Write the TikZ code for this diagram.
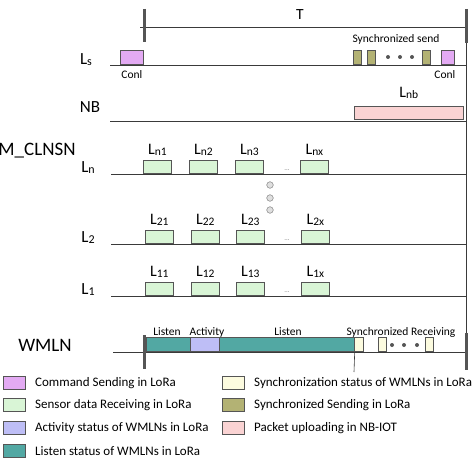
\documentclass[tikz,border=0pt]{standalone}
\usepackage{fontspec}
\setmainfont{Carlito}
\usetikzlibrary{arrows.meta,positioning}
\usepackage{xcolor}
\definecolor{loraCmd}{HTML}{E3AAF3}
\definecolor{loraSensor}{HTML}{D9F5D6}
\definecolor{loraActive}{HTML}{BEBEF6}
\definecolor{loraListen}{HTML}{52A8A3}
\definecolor{loraSync}{HTML}{FCFBDF}
\definecolor{loraSend}{HTML}{B3B274}
\definecolor{nbUpload}{HTML}{FAD3D3}
\definecolor{slotEdge}{HTML}{555555}
\definecolor{axisLine}{HTML}{3A3A3A}
\newcommand{\Lsub}[2][11.5]{L\raisebox{-1pt}{\fontsize{#1}{#1}\selectfont #2}}

\begin{document}
\begin{tikzpicture}[x=1pt,y=-1pt,>=Latex,
  slot/.style={draw=slotEdge,line width=0.7pt,inner sep=0pt,anchor=south west},
  axis/.style={draw=axisLine,line width=0.9pt},
  bar/.style={draw=slotEdge,line width=3pt},
  rowlab/.style={font=\fontsize{17}{17}\selectfont},
  netlab/.style={font=\fontsize{19}{19}\selectfont},
  small/.style={font=\fontsize{11.5}{12}\selectfont,inner sep=0pt},
  keytext/.style={font=\fontsize{13}{14}\selectfont,anchor=west,inner sep=0pt}]
\useasboundingbox (0,0) rectangle (474,460);

% period T
\coordinate (tL) at (140,27);
\coordinate (tR) at (466,27);
\draw[axis] (tL) -- (tR);
\draw[bar] (144,9) -- (144,42);
\draw[bar] (466,9) -- (466,43);
\node[font=\fontsize{15.5}{15.5}\selectfont] (T) at (300,15) {T};
\coordinate (endTop) at (466,43);
\coordinate (endBot) at (466,334);
\draw[axis] (endTop) -- (endBot);

% Ls
\node[rowlab] (Ls) at (86,60) {\Lsub[12]{s}};
\coordinate (ls0) at (110,65);
\coordinate (ls1) at (466,65);
\draw[axis] (ls0) -- (ls1);
\node[slot,fill=loraCmd,minimum width=23pt,minimum height=14pt] (conlA) at (120,65) {};
\node[slot,fill=loraCmd,minimum width=13pt,minimum height=14pt] (conlB) at (441,65) {};
\node[small,below=5pt of conlA.south] {Conl};
\node[small,below=5pt of conlB.south,xshift=-3pt] {Conl};
\foreach \x/\name in {353/sendA,367/sendB,422/sendC}
  \node[slot,fill=loraSend,minimum width=8pt,minimum height=14pt] (\name) at (\x,65) {};
\foreach \x in {388,400,412}
  \fill[slotEdge] (\x,57) circle (2pt);
\node[small] (syncSend) at (396,39) {Synchronized send};

% NB
\node[rowlab] (NB) at (90,107) {NB};
\coordinate (nb0) at (110,121);
\coordinate (nb1) at (466,121);
\draw[axis] (nb0) -- (nb1);
\node[slot,fill=nbUpload,minimum width=109pt,minimum height=13pt] (up) at (354,120) {};
\node[font=\fontsize{16}{16}\selectfont,above=4pt of up] {\Lsub{nb}};

% M_CLNSN
\node[netlab] (clnsn) at (37,151) {M\_CLNSN};
\foreach \y/\row/\xa/\xb/\xc/\xd in {174/n/143/189/235/300, 244/2/145/191/236/301, 296/1/145/191/236/301}{
  \node[rowlab] (lab\row) at (88,\y-6) {\Lsub[12]{\row}};
  \coordinate (row\row a) at (111,\y);
  \coordinate (row\row b) at (466,\y);
  \draw[axis] (row\row a) -- (row\row b);
  \foreach \x/\k in {\xa/1,\xb/2,\xc/3,\xd/x}{
    \node[slot,fill=loraSensor,minimum width=28pt,minimum height=13pt] (s\row\k) at (\x,\y) {};
    \node[font=\fontsize{16}{16}\selectfont,above=1pt of s\row\k] {\Lsub{\row\k}};
  }
  \node[font=\fontsize{7}{7}\selectfont,text=gray] at (287,\y-4) {...};
}
\foreach \y in {185,198,210}
  \filldraw[draw=gray,fill=gray!25,line width=0.5pt] (270,\y) circle (3.3pt);

% WMLN
\node[netlab] (wmln) at (45,345) {WMLN};
\coordinate (w0) at (113,352);
\coordinate (w1) at (466,352);
\draw[axis] (w0) -- (w1);
\node[slot,fill=loraListen,minimum width=208pt,minimum height=14pt] (listen) at (146,352) {};
\node[slot,fill=loraActive,minimum width=29pt,minimum height=14pt] (act) at (190,352) {};
\foreach \x/\w/\name in {354/9/syA,378/8/syB,425/8/syC}
  \node[slot,fill=loraSync,minimum width=\w pt,minimum height=14pt] (\name) at (\x,352) {};
\foreach \x in {392,404,417}
  \fill[slotEdge] (\x,345) circle (2pt);
\draw[bar] (144,335) -- (144,369);
\draw[bar] (466,333) -- (466,370);
\coordinate (syncMark) at (354,372);
\draw[axis,line width=0.6pt] (listen.south east) -- (syncMark);
\node[small] at (167,332) {Listen};
\node[small] at (207,332) {Activity};
\node[small] at (288,332) {Listen};
\node[small] at (401,332) {Synchronized Receiving};

% legend
\foreach \y/\col/\txt in {383/loraCmd/Command Sending in LoRa, 405/loraSensor/Sensor data Receiving in LoRa, 428/loraActive/Activity status of WMLNs in LoRa, 451/loraListen/Listen status of WMLNs in LoRa}{
  \node[slot,fill=\col,minimum width=22pt,minimum height=13pt,anchor=west] (key\y) at (3,\y) {};
  \node[keytext] at (35,\y) {\txt};
}
\foreach \y/\col/\txt in {383/loraSync/Synchronization status of WMLNs in LoRa, 405/loraSend/Synchronized Sending in LoRa, 428/nbUpload/Packet uploading in NB-IOT}{
  \node[slot,fill=\col,minimum width=22pt,minimum height=13pt,anchor=west] (keyR\y) at (222,\y) {};
  \node[keytext] at (254,\y) {\txt};
}
\end{tikzpicture}
\end{document}
